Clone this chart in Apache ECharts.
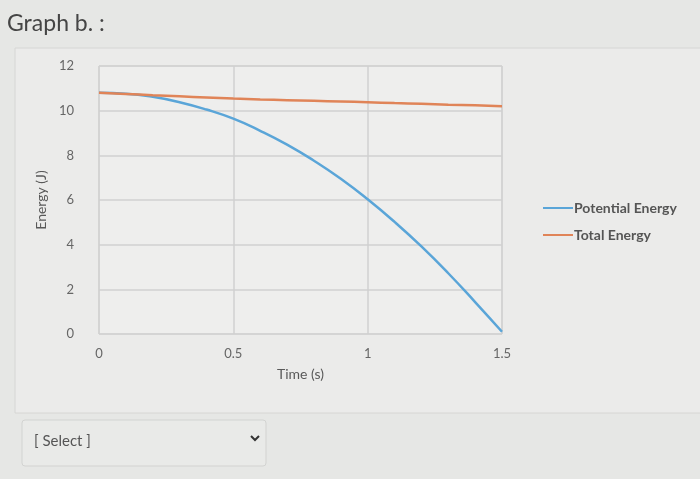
<!DOCTYPE html>
<html>
<head>
<meta charset="utf-8">
<script src="https://cdn.jsdelivr.net/npm/echarts@6/dist/echarts.min.js"></script>
<style>
html,body{margin:0;padding:0;background:#e6e7e5;}
#c{width:700px;height:479px;}
</style>
</head>
<body>
<div id="c"></div>
<script>
var timeS = [0, 0.1, 0.2, 0.3, 0.4, 0.5, 0.6, 0.7, 0.8, 0.9, 1.0, 1.1, 1.2, 1.3, 1.4, 1.5];
var potentialEnergy = [10.8, 10.76, 10.62, 10.38, 10.05, 9.64, 9.1, 8.48, 7.76, 6.95, 6.03, 5.02, 3.92, 2.72, 1.43, 0.1];
var totalEnergy = [10.8, 10.75, 10.69, 10.64, 10.59, 10.54, 10.5, 10.47, 10.44, 10.41, 10.38, 10.34, 10.31, 10.27, 10.24, 10.2];
var seriesNames = ['Potential Energy', 'Total Energy'];
var xTicks = [0, 0.5, 1, 1.5];
var yTicks = [0, 2, 4, 6, 8, 10, 12];

function pairs(xs, ys){ return xs.map(function(x,i){ return [x, ys[i]]; }); }

var chart = echarts.init(document.getElementById('c'));
var font = 'Lato, "Open Sans", sans-serif';
chart.setOption({
  backgroundColor: '#e6e7e5',
  animation: false,
  textStyle: {fontFamily: font},
  title: {
    text: 'Graph b. :',
    left: 2, top: 7,
    textStyle: {fontFamily: font, fontSize: 23, fontWeight: 'normal', color: '#454545'}
  },
  graphic: [
    {type:'rect', z:-10, shape:{x:15, y:48, width:700, height:365},
     style:{fill:'#ebebea', stroke:'#d6d6d4', lineWidth:1}},
    {type:'rect', z:-10, shape:{x:22, y:420, width:244, height:46, r:3},
     style:{fill:'#e9eae8', stroke:'#d2d3d1', lineWidth:1}},
    {type:'text', left:34, top:434,
     style:{text:'[ Select ]', fontFamily: font, fontSize:15, fill:'#555'}},
    {type:'polyline', shape:{points:[[251,436],[255,440],[259,436]]},
     style:{stroke:'#333', lineWidth:2, fill:null}}
  ],
  grid: {left: 99, right: 198, top: 66, bottom: 145, show: true,
         backgroundColor: '#eeeeed', borderColor: '#cfcfcf', borderWidth: 1},
  legend: {
    orient: 'vertical', left: 538, top: 196,
    itemWidth: 30, itemHeight: 2, itemGap: 13, icon: 'rect',
    data: seriesNames,
    textStyle: {fontFamily: font, fontSize: 14, color: '#555', fontWeight: 'bold', padding:[0,0,0,-4]}
  },
  xAxis: {
    type: 'value', min: 0, max: 1.5, interval: 0.5,
    name: 'Time (s)', nameLocation: 'middle', nameGap: 33,
    nameTextStyle: {fontFamily: font, fontSize: 14, color: '#595959'},
    axisLine: {show: false}, axisTick: {show: false},
    axisLabel: {margin: 13, fontSize: 13, color: '#666',
      formatter: function(v){ return xTicks.indexOf(v) >= 0 ? String(v) : ''; }},
    splitLine: {show: true, lineStyle: {color: '#d0d0d0', width: 1.5}}
  },
  yAxis: {
    type: 'value', min: 0, max: 12, interval: 2,
    name: 'Energy (J)', nameLocation: 'middle', nameGap: 50, nameRotate: 90,
    nameTextStyle: {fontFamily: font, fontSize: 14, color: '#595959'},
    axisLine: {show: false}, axisTick: {show: false},
    axisLabel: {margin: 25, fontSize: 13, color: '#666',
      formatter: function(v){ return yTicks.indexOf(v) >= 0 ? String(v) : ''; }},
    splitLine: {show: true, lineStyle: {color: '#d0d0d0', width: 1.5}}
  },
  series: [
    {name: seriesNames[0], type: 'line', smooth: true, showSymbol: false,
     data: pairs(timeS, potentialEnergy), color: '#5aa5d8',
     lineStyle: {width: 2.5, color: '#5aa5d8'}, z: 3},
    {name: seriesNames[1], type: 'line', smooth: true, showSymbol: false,
     data: pairs(timeS, totalEnergy), color: '#e08458',
     lineStyle: {width: 2.5, color: '#e08458'}, z: 4}
  ]
});
</script>
</body>
</html>
